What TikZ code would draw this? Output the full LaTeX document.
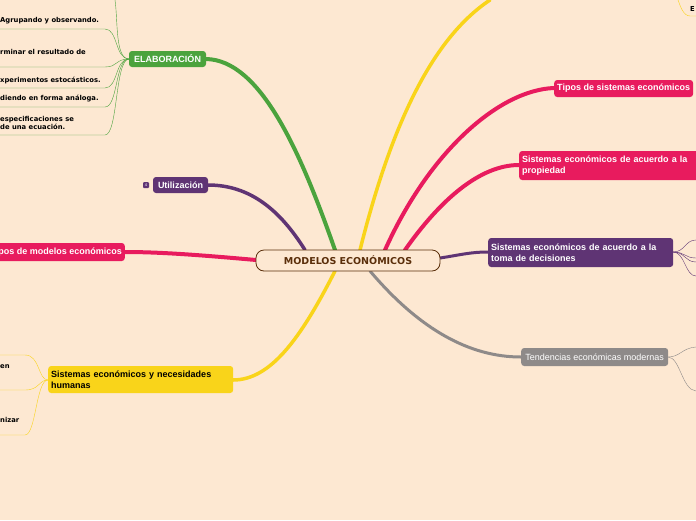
\documentclass[tikz,border=0pt]{standalone}
\usepackage{fontspec}
\setmainfont{Liberation Sans}
\newfontfamily\leaffont{DejaVu Sans}
\begin{document}
\begin{tikzpicture}[x=1pt,y=-1pt,
  topic/.style={rounded corners=3pt,font=\bfseries\fontsize{9}{10.5}\selectfont,text=white,inner sep=3pt,align=left},
  leaf/.style={font=\leaffont\bfseries\fontsize{6.8}{8.8}\selectfont,align=left,inner sep=0pt,anchor=west},
  br/.style={line width=#1,line cap=round},
]
\definecolor{bg}{HTML}{FDE8D2}
\definecolor{cgreen}{HTML}{4BA33D}
\definecolor{cpurple}{HTML}{5F3474}
\definecolor{cpink}{HTML}{E81B5E}
\definecolor{cyellow}{HTML}{F9D41A}
\definecolor{cgrey}{HTML}{8E8A89}
\definecolor{cbrown}{HTML}{5A2E0A}
\fill[bg] (0,0) rectangle (696,520);
\useasboundingbox (0,0) rectangle (696,520);
\clip (0,0) rectangle (696,520);

% main branches
\draw[cgreen,br=4pt] (335,250) .. controls (300,150) and (260,60) .. (206,59);
\draw[cpurple,br=3.5pt] (305,250) .. controls (280,210) and (250,185) .. (208,185);
\draw[cpink,br=4pt] (256,260) .. controls (200,255) and (160,252) .. (125,252);
\draw[cyellow,br=3.5pt] (335,271) .. controls (300,340) and (270,380) .. (233,380);
\draw[cyellow,br=3.5pt] (360,250) .. controls (390,130) and (430,40) .. (490,0);
\draw[cpink,br=4pt] (385,250) .. controls (430,150) and (500,90) .. (554,88);
\draw[cpink,br=4pt] (405,250) .. controls (440,200) and (480,165) .. (519,165);
\draw[cpurple,br=3pt] (440,258) .. controls (460,255) and (470,252) .. (488,252);
\draw[cgrey,br=3pt] (370,271) .. controls (420,330) and (470,357) .. (521,357);

% green leaves
\foreach \y in {29,67,88,107,135}{
  \draw[cgreen,thin] (129,59) .. controls (115,59) and (118,\y) .. (105,\y) -- (0,\y);}
\draw[cgreen,thin] (129,59) .. controls (115,59) and (118,20) .. (115,0);
\node[leaf] (l1) at (0,21) {Agrupando y observando.};
\node[leaf] (l2) at (0,52) {rminar el resultado de};
\node[leaf] (l3) at (0,80) {xperimentos estocásticos.};
\node[leaf] (l4) at (0,99) {diendo en forma análoga.};
\node[leaf] (l5) at (0,123) {especificaciones se\\de una ecuación.};

% yellow leaves
\draw[cyellow,thin] (48,380) .. controls (38,380) and (40,355) .. (25,355) -- (0,355);
\draw[cyellow,thin] (48,380) .. controls (38,380) and (40,390) .. (25,390) -- (0,390);
\draw[cyellow,thin] (48,380) .. controls (36,380) and (36,435) .. (25,435) -- (0,435);
\node[leaf] (y1) at (0,367) {en};
\node[leaf] (y2) at (0,420) {nizar};

% top right yellow
\draw[cyellow,thin] (696,16) -- (690,16) .. controls (683,16) and (680,5) .. (678,0);
\node[leaf] (e1) at (690,9) {E};

% purple right
\foreach \y in {240,258,262,276}{
  \draw[cpurple,thin] (673,252) .. controls (685,252) and (685,\y) .. (696,\y);}
% grey right
\draw[cgrey,thin] (668,357) .. controls (680,357) and (682,348) .. (696,347);
\draw[cgrey,thin] (668,357) .. controls (680,357) and (682,390) .. (696,391);

% nodes
\node[draw=cbrown,fill=bg,rounded corners=8pt,minimum width=184pt,minimum height=21pt,font=\leaffont\bfseries\fontsize{9.5}{10}\selectfont,text=cbrown,line width=0.8pt] (c) at (348,260.5) {MODELOS ECONÓMICOS};
\node[topic,fill=cgreen,minimum width=77pt,minimum height=16pt] (g) at (167.5,59) {ELABORACIÓN};
\node[topic,fill=cpurple,minimum width=55pt,minimum height=16pt] (u) at (180.5,185) {Utilización};
\node[fill=cpurple,rounded corners=1pt,minimum size=6pt,inner sep=0pt,text=white,font=\fontsize{4}{4}\selectfont] (ub) at (146,185) {4};
\node[topic,fill=cpink,anchor=east,minimum height=18pt] (tm) at (125,252) {Tipos de modelos económicos};
\node[topic,fill=cyellow,text=black,anchor=west,text width=179pt,minimum height=27pt] (ys) at (48,379.5) {Sistemas económicos y necesidades\\humanas};
\node[topic,fill=cpink,anchor=west,minimum height=17pt] (ts) at (554,88.5) {Tipos de sistemas económicos};
\node[topic,fill=cpink,anchor=west,text width=174pt,minimum height=29pt] (sp) at (519,165.5) {Sistemas económicos de acuerdo a la\\propiedad};
\node[topic,fill=cpurple,anchor=west,text width=179pt,minimum height=29pt] (sd) at (488,252.5) {Sistemas económicos de acuerdo a la\\toma de decisiones};
\node[topic,fill=cgrey,anchor=west,minimum width=147pt,minimum height=18pt,font=\fontsize{9}{10.5}\selectfont] (tt) at (521,357) {Tendencias económicas modernas};
\end{tikzpicture}
\end{document}
